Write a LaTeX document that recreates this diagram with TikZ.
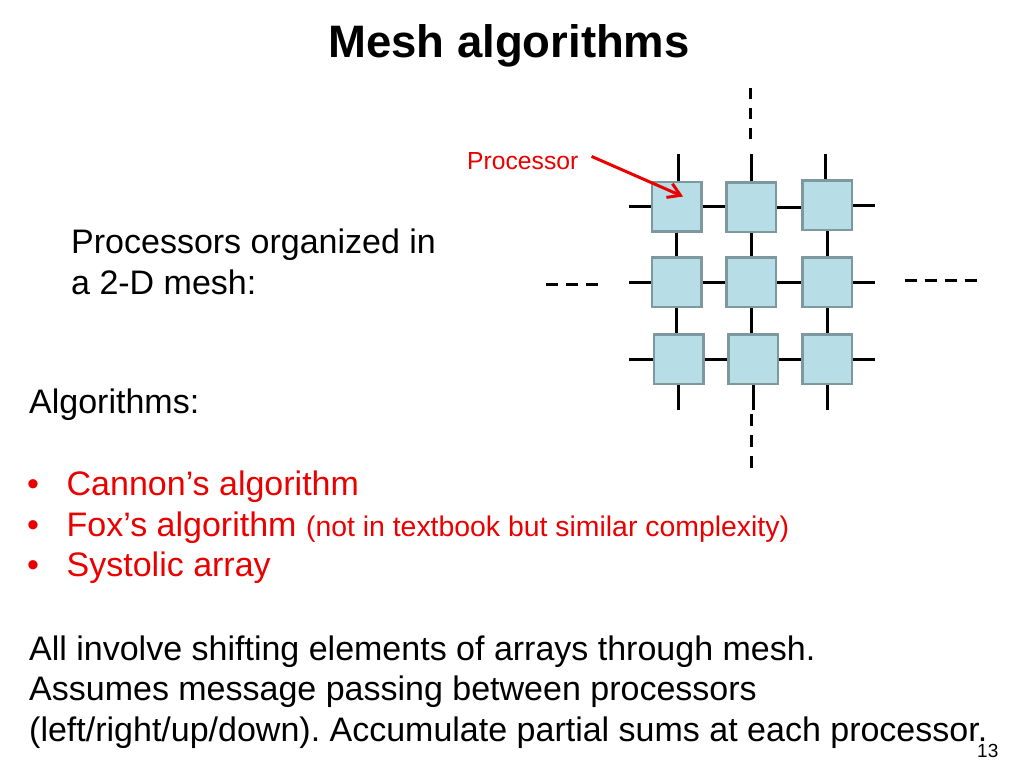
\documentclass[tikz,border=0pt]{standalone}
\usepackage{fontspec}
\setmainfont{Liberation Sans}
\usetikzlibrary{arrows.meta}
\definecolor{boxfill}{RGB}{183,222,230}
\definecolor{boxline}{RGB}{125,152,158}
\definecolor{txtred}{RGB}{235,0,0}
\frenchspacing
\begin{document}
\begin{tikzpicture}[x=1pt,y=-1pt,
  proc/.style={draw=boxline, fill=boxfill, line width=2.5pt, minimum width=49.5pt, minimum height=49.5pt, inner sep=0pt, shape=rectangle},
  link/.style={line width=3pt, black},
  dashline/.style={line width=3pt, black, dash pattern=on 12pt off 8pt},
  txt/.style={anchor=base west, inner sep=0pt, font=\fontsize{34}{41}\selectfont},
  redtxt/.style={txt, text=txtred},
  arr/.style={line width=3pt, txtred, -{Straight Barb[length=12pt,width=15pt]}}]
\useasboundingbox (0,0) rectangle (1024,768);
\fill[white] (0,0) rectangle (1024,768);

% title
\node[anchor=base, inner sep=0pt, font=\fontsize{45.5}{50}\selectfont\bfseries] (title) at (509,57) {Mesh algorithms};

% left text
\node[txt] (t1) at (71,253) {Processors organized in};
\node[txt] (t2) at (71,294) {a 2-D mesh:};
\node[txt] (t3) at (29,413) {Algorithms:};
\node[redtxt] (bu1) at (27,495) {•};
\node[redtxt] (a1) at (66.5,495) {Cannon’s algorithm};
\node[redtxt] (bu2) at (27,536) {•};
\node[redtxt] (a2) at (66.5,536) {Fox’s algorithm \fontsize{28.4}{34}\selectfont(not in textbook but similar complexity)};
\node[redtxt] (bu3) at (27,576) {•};
\node[redtxt] (a3) at (66.5,576) {Systolic array};
\node[txt] (l1) at (29,660) {All involve shifting elements of arrays through mesh.};
\node[txt] (l2) at (29,700.5) {Assumes message passing between processors};
\node[txt] (l3) at (29,741) {(left/right/up/down). Accumulate partial sums at each processor.};
\node[anchor=base west, inner sep=0pt, font=\fontsize{19}{20}\selectfont] (pg) at (977,757) {13};

% processors
\node[proc] (b11) at (676.7,206.5) {};
\node[proc] (b12) at (751.3,207) {};
\node[proc] (b13) at (827.3,205) {};
\node[proc] (b21) at (676.7,282) {};
\node[proc] (b22) at (751.3,282) {};
\node[proc] (b23) at (827.3,282) {};
\node[proc] (b31) at (678.7,359) {};
\node[proc] (b32) at (753.3,359) {};
\node[proc] (b33) at (827.3,359) {};

% free-end coordinates
\coordinate (topY) at (0,154);
\coordinate (botY) at (0,410);
\coordinate (leftX) at (629,0);
\coordinate (rightX) at (875,0);

% horizontal links
\draw[link] (b11.east) -- (b11.east -| b12.west);
\draw[link] (b12.east) -- (b12.east -| b13.west);
\draw[link] (b21.east) -- (b21.east -| b22.west);
\draw[link] (b22.east) -- (b22.east -| b23.west);
\draw[link] (b31.east) -- (b31.east -| b32.west);
\draw[link] (b32.east) -- (b32.east -| b33.west);
% vertical links
\draw[link] (b11.south) -- (b11.south |- b21.north);
\draw[link] (b12.south) -- (b12.south |- b22.north);
\draw[link] (b13.south) -- (b13.south |- b23.north);
\draw[link] (b21.south) -- (b21.south |- b31.north);
\draw[link] (b22.south) -- (b22.south |- b32.north);
\draw[link] (b23.south) -- (b23.south |- b33.north);
% stubs
\draw[link] ([xshift=2pt]b11.north) -- ([xshift=2pt]b11.north |- topY);
\draw[link] (b12.north) -- (b12.north |- topY);
\draw[link] ([xshift=-2pt]b13.north) -- ([xshift=-2pt]b13.north |- topY);
\draw[link] (b31.south) -- (b31.south |- botY);
\draw[link] (b32.south) -- (b32.south |- botY);
\draw[link] (b33.south) -- (b33.south |- botY);
\draw[link] (b11.west) -- (b11.west -| leftX);
\draw[link] (b21.west) -- (b21.west -| leftX);
\draw[link] (b31.west) -- (b31.west -| leftX);
\draw[link] (b13.east) -- (b13.east -| rightX);
\draw[link] (b23.east) -- (b23.east -| rightX);
\draw[link] (b33.east) -- (b33.east -| rightX);

% dashed continuation
\coordinate (dT1) at (750,88);
\coordinate (dT2) at (750,140);
\coordinate (dB1) at (751.5,414);
\coordinate (dB2) at (751.5,468);
\coordinate (dL1) at (546,284);
\coordinate (dL2) at (599,284);
\coordinate (dR1) at (904.7,280.5);
\coordinate (dR2) at (977,280.5);
\draw[dashline, dash pattern=on 11pt off 9pt] (dT1) -- (dT2);
\draw[dashline, dash pattern=on 12pt off 9pt] (dB1) -- (dB2);
\draw[dashline] (dL1) -- (dL2);
\draw[dashline] (dR1) -- (dR2);

% processor label
\node[anchor=base west, inner sep=0pt, text=txtred, font=\fontsize{24.7}{28}\selectfont] (plabel) at (467,169.3) {Processor};
\coordinate (tip) at (683,196.5);
\draw[arr] ([xshift=13pt,yshift=4.5pt]plabel.east) -- (tip);
\end{tikzpicture}
\end{document}
